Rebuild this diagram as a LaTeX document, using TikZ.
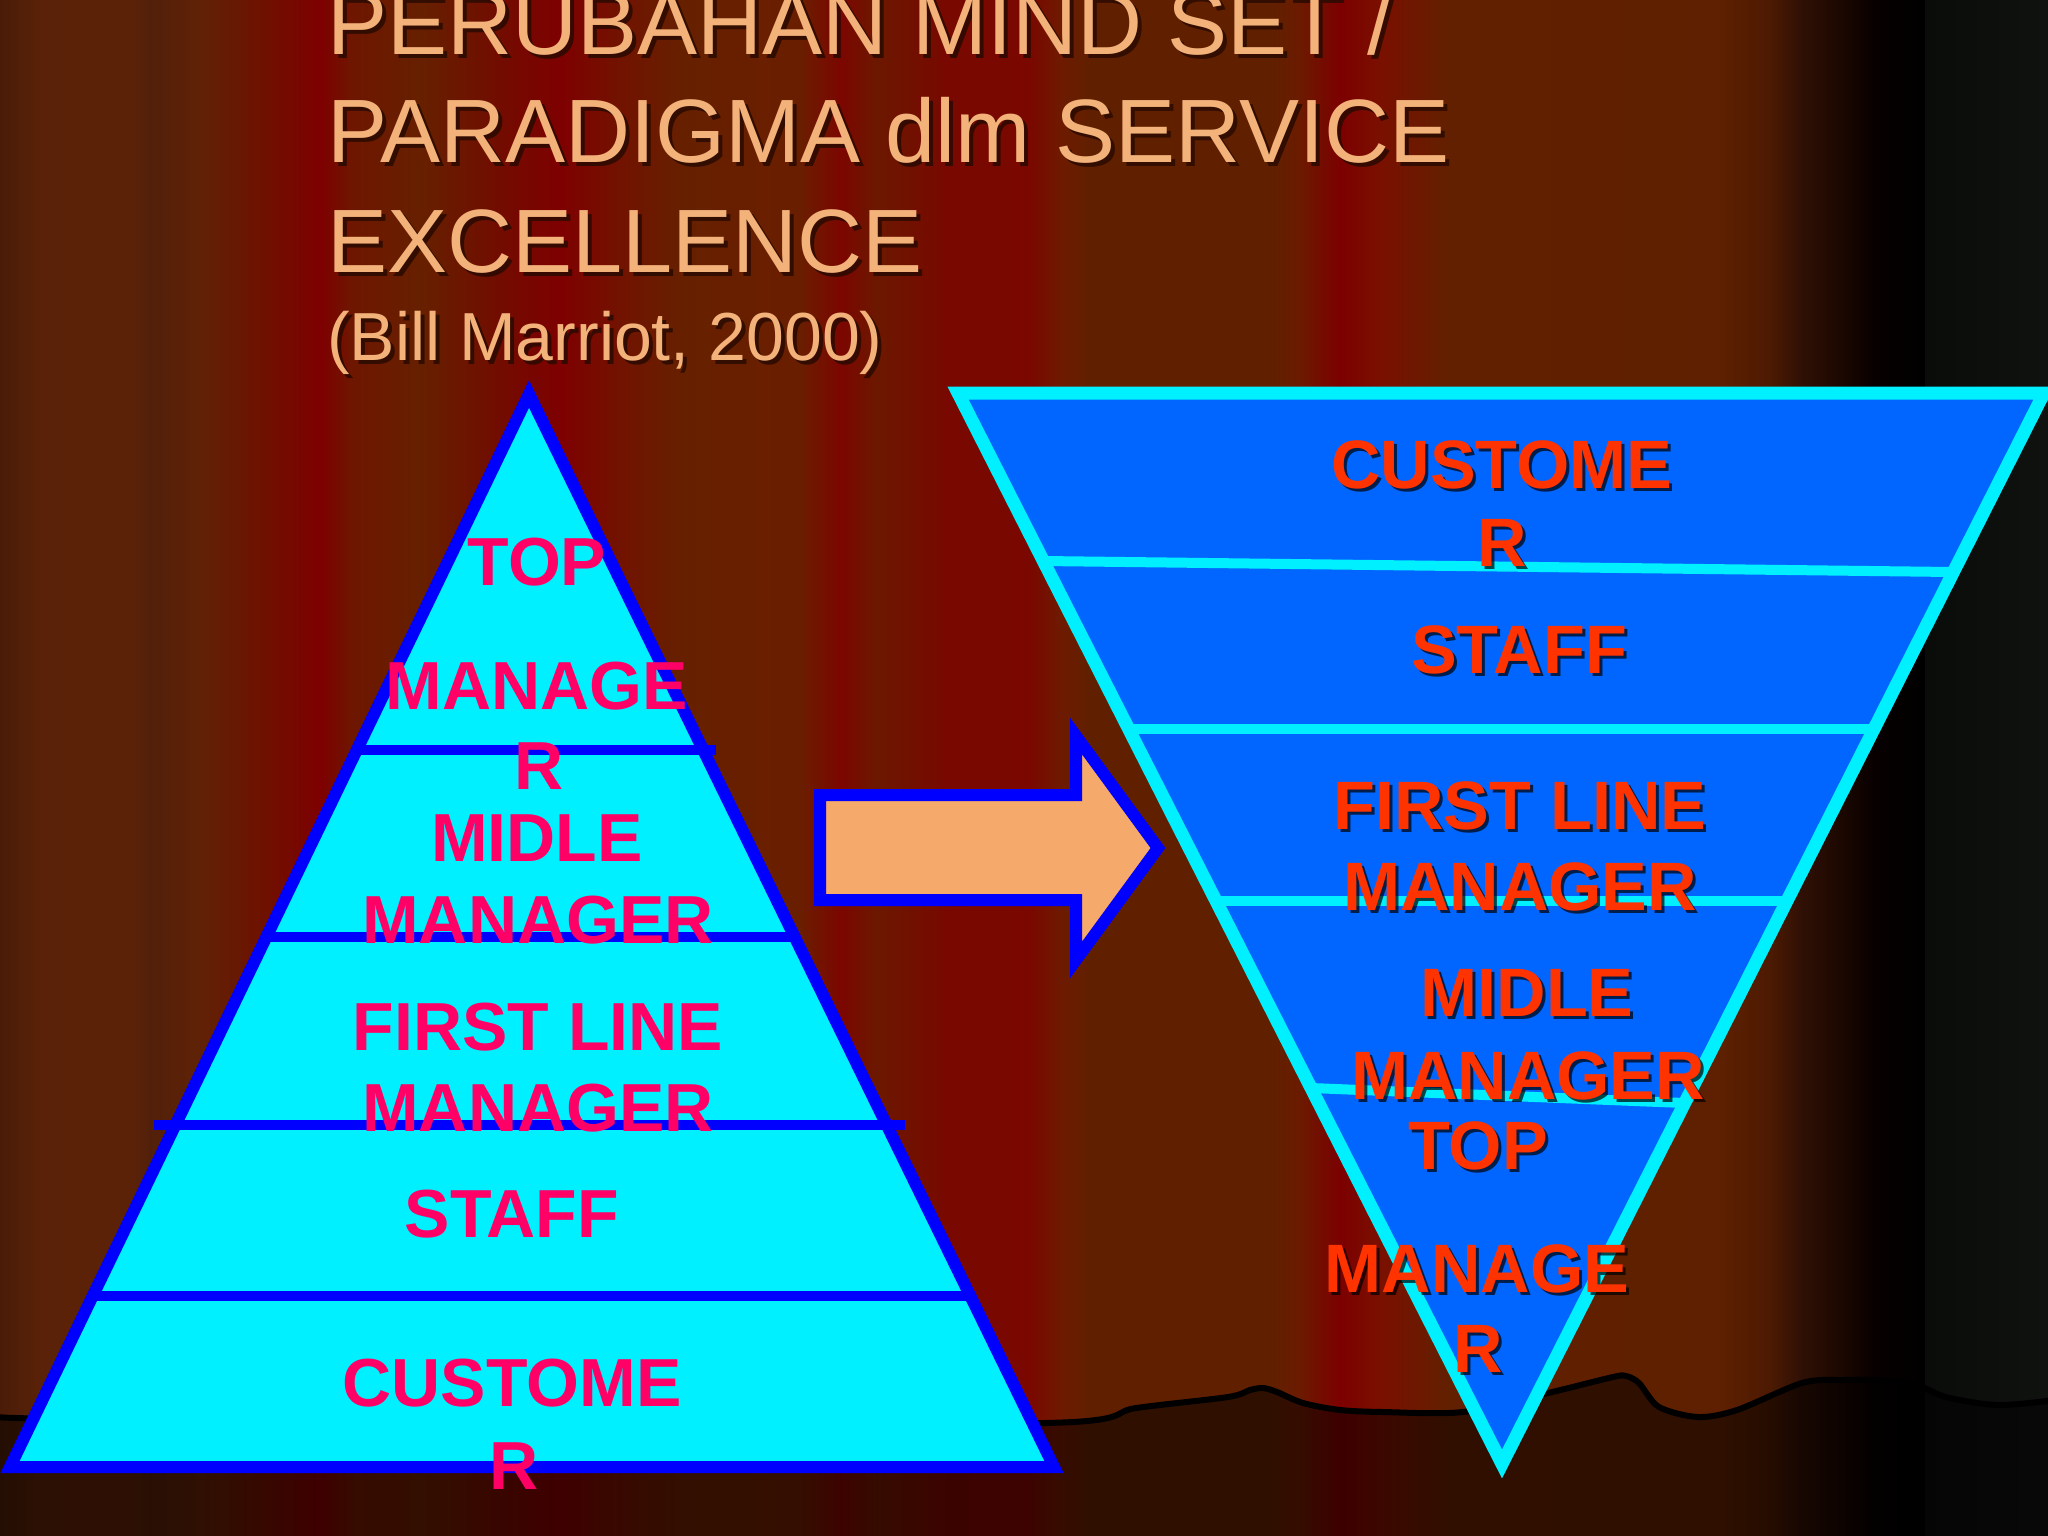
\documentclass[tikz,border=0pt]{standalone}
\usepackage{fontspec}
\setmainfont{Liberation Sans}
\definecolor{cyanfill}{HTML}{00F0FF}
\definecolor{pyrblue}{HTML}{0000FF}
\definecolor{invfill}{HTML}{0066FF}
\definecolor{pinktext}{HTML}{FF0066}
\definecolor{redtext}{HTML}{FF3300}
\definecolor{titlecol}{HTML}{F2B27A}
\definecolor{titleshadow}{HTML}{2A0A00}
\definecolor{arrowfill}{HTML}{F5AA6C}
\newcommand{\rlabel}[4]{%
  \node[rtxt,text=black,opacity=0.7] at (#2+3,#3+3) {#4};
  \node[rtxt] (#1) at (#2,#3) {#4};}
\newcommand{\tlabel}[5]{%
  \node[ttxt,font=\fontsize{#4}{#4}\selectfont,text=titleshadow,opacity=0.85] at (#2+4,#3+4) {#5};
  \node[ttxt,font=\fontsize{#4}{#4}\selectfont] (#1) at (#2,#3) {#5};}
\begin{document}
\begin{tikzpicture}[x=1pt,y=-1pt,
  ltxt/.style={font=\bfseries\fontsize{68}{80}\selectfont,text=pinktext,inner sep=0,anchor=base},
  rtxt/.style={font=\bfseries\fontsize{68.5}{80}\selectfont,text=redtext,inner sep=0,anchor=base},
  ttxt/.style={text=titlecol,inner sep=0,anchor=base west},
  pyrline/.style={draw=pyrblue,line width=12},
  invline/.style={draw=cyanfill,line width=13},
  divline/.style={line width=10}]
\useasboundingbox (0,0) rectangle (2048,1536);
\clip (0,0) rectangle (2048,1536);
% curtain background
\foreach \xa/\ca/\xb/\cb in {0/4A1C08/40/5A2208, 40/5A2208/130/5C2208, 130/5C2208/150/52200A,
  150/52200A/200/602206, 200/602206/260/6E1200, 260/6E1200/320/7E0000, 320/7E0000/350/6E1600,
  350/6E1600/420/662000, 420/662000/500/720C00, 500/720C00/560/7E0000, 560/7E0000/610/741000,
  610/741000/680/662000, 680/662000/800/6A1E00, 800/6A1E00/840/7C0600, 840/7C0600/875/6C1800,
  875/6C1800/947/780800, 947/780800/1030/7A0800, 1030/7A0800/1060/6E1A00, 1060/6E1A00/1090/602000,
  1090/602000/1270/602000, 1270/602000/1300/6C1A00, 1300/6C1A00/1340/7C0000, 1340/7C0000/1380/7A1000,
  1380/7A1000/1448/622000, 1448/622000/1720/5E2000, 1720/5E2000/1770/4C1A02, 1770/4C1A02/1800/301005,
  1800/301005/1847/180600, 1847/180600/1873/080000, 1873/080000/1925/000000, 1925/0A0C0A/2048/101210}{
  \edef\tmp{\noexpand\definecolor{bgA}{HTML}{\ca}\noexpand\definecolor{bgB}{HTML}{\cb}}\tmp
  \shade[left color=bgA,right color=bgB] (\xa,-5) rectangle (\xb+1,1545);
}
% floor
\fill[black,opacity=0.5] plot[smooth] coordinates {(-5,1405) (15,1418) (500,1421) (1045,1423) (1136,1408)
  (1228,1397) (1250,1390) (1263,1388) (1277,1392) (1303,1403) (1340,1410) (1383,1412) (1463,1412)
  (1548,1393) (1613,1377) (1626,1376) (1639,1383) (1659,1407) (1698,1417) (1737,1410) (1802,1383)
  (1842,1380) (1907,1382) (1946,1397) (1998,1405) (2055,1400)} -- (2060,1545) -- (-10,1545) -- cycle;
\draw[black,line width=6] plot[smooth] coordinates {(-5,1405) (15,1418) (500,1421) (1045,1423) (1136,1408)
  (1228,1397) (1250,1390) (1263,1388) (1277,1392) (1303,1403) (1340,1410) (1383,1412) (1463,1412)
  (1548,1393) (1613,1377) (1626,1376) (1639,1383) (1659,1407) (1698,1417) (1737,1410) (1802,1383)
  (1842,1380) (1907,1382) (1946,1397) (1998,1405) (2055,1400)};
% title
\tlabel{t1}{327}{55}{90}{PERUBAHAN MIND SET /}
\tlabel{t2}{327}{163}{90}{PARADIGMA dlm SERVICE}
\tlabel{t3}{327}{272}{90}{EXCELLENCE}
\tlabel{t4}{327}{360}{68}{(Bill Marriot, 2000)}
% left pyramid
\fill[cyanfill] (529,394) -- (1054,1467) -- (10,1467) -- cycle;
\draw[pyrline,line join=miter] (529,394) -- (1054,1467) -- (10,1467) -- cycle;
\draw[pyrblue,divline] (357,750) -- (716,750);
\draw[pyrblue,divline] (266,937) -- (795,937);
\draw[pyrblue,divline] (154,1125) -- (905,1125);
\draw[pyrblue,divline] (93,1296) -- (970,1296);
% arrow
\draw[pyrline,fill=arrowfill,line join=miter] (820,795) -- (1076,795) -- (1076,736) -- (1158,848)
  -- (1076,960) -- (1076,900) -- (820,900) -- cycle;
% inverted triangle
\fill[invfill] (958,393) -- (2044,393) -- (1502,1464) -- cycle;
\draw[cyanfill,divline] (1043,561) -- (1952,572);
\draw[cyanfill,divline] (1129,729) -- (1873,729);
\draw[cyanfill,divline] (1216,901) -- (1786,901);
\draw[cyanfill,divline] (1311,1088) -- (1684,1103);
\draw[invline,line join=miter] (958,393) -- (2044,393) -- (1502,1464) -- cycle;
% left labels
\node[ltxt] (l1) at (537,585) {TOP};
\node[ltxt] (l2) at (537,709) {MANAGE};
\node[ltxt] (l3) at (539,789) {R};
\node[ltxt] (l4) at (537,861) {MIDLE};
\node[ltxt] (l5) at (538,943) {MANAGER};
\node[ltxt] (l6) at (538,1050) {FIRST LINE};
\node[ltxt] (l7) at (538,1131) {MANAGER};
\node[ltxt] (l8) at (512,1237) {STAFF};
\node[ltxt] (l9) at (512,1406) {CUSTOME};
\node[ltxt] (l10) at (514,1489) {R};
% right labels
\rlabel{r1}{1502}{488}{CUSTOME}
\rlabel{r2}{1502}{566}{R}
\rlabel{r3}{1519}{673}{STAFF}
\rlabel{r4}{1520}{829}{FIRST LINE}
\rlabel{r5}{1520}{910}{MANAGER}
\rlabel{r6}{1527}{1016}{MIDLE}
\rlabel{r7}{1528}{1099}{MANAGER}
\rlabel{r8}{1478}{1169}{TOP}
\rlabel{r9}{1477}{1292}{MANAGE}
\rlabel{r10}{1478}{1372}{R}
\end{tikzpicture}
\end{document}
